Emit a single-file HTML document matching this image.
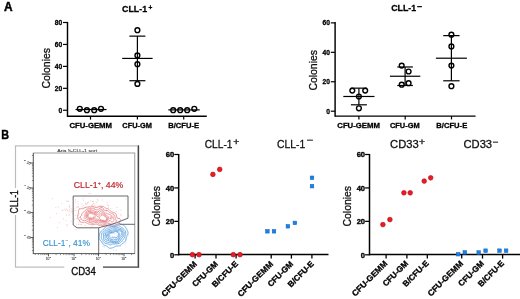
<!DOCTYPE html>
<html lang="en"><head><meta charset="utf-8"><title>Figure</title>
<style>
html,body{margin:0;padding:0;background:#fff;}
svg{display:block;}
text{white-space:pre;}
</style></head>
<body>
<svg width="520" height="299" viewBox="0 0 520 299">
<defs><filter id="soft" x="0" y="0" width="520" height="299" filterUnits="userSpaceOnUse"><feGaussianBlur stdDeviation="0.42"/></filter></defs>
<rect width="520" height="299" fill="#fff"/>
<g filter="url(#soft)">
<text x="4.1" y="11.3" font-size="12.3" text-anchor="start" font-family="Liberation Sans, Arial, sans-serif" font-weight="bold" fill="#000" textLength="8.6" lengthAdjust="spacingAndGlyphs" stroke="#000" stroke-width="0.45">A</text>
<text x="1.2" y="139" font-size="12.3" text-anchor="start" font-family="Liberation Sans, Arial, sans-serif" font-weight="bold" fill="#000" textLength="7.8" lengthAdjust="spacingAndGlyphs" stroke="#000" stroke-width="0.4">B</text>
<line x1="67.5" y1="21.9" x2="67.5" y2="116.95" stroke="#000" stroke-width="1.45"/>
<line x1="67.5" y1="116.25" x2="206.8" y2="116.25" stroke="#000" stroke-width="1.45"/>
<line x1="63" y1="110.25" x2="67.5" y2="110.25" stroke="#000" stroke-width="1.2"/>
<text x="62.2" y="112.65" font-size="6.7" text-anchor="end" font-family="Liberation Sans, Arial, sans-serif" font-weight="bold" fill="#000" stroke="#000" stroke-width="0.3">0</text>
<line x1="63" y1="88.3125" x2="67.5" y2="88.3125" stroke="#000" stroke-width="1.2"/>
<text x="62.2" y="90.7125" font-size="6.7" text-anchor="end" font-family="Liberation Sans, Arial, sans-serif" font-weight="bold" fill="#000" stroke="#000" stroke-width="0.3">20</text>
<line x1="63" y1="66.375" x2="67.5" y2="66.375" stroke="#000" stroke-width="1.2"/>
<text x="62.2" y="68.775" font-size="6.7" text-anchor="end" font-family="Liberation Sans, Arial, sans-serif" font-weight="bold" fill="#000" stroke="#000" stroke-width="0.3">40</text>
<line x1="63" y1="44.4375" x2="67.5" y2="44.4375" stroke="#000" stroke-width="1.2"/>
<text x="62.2" y="46.8375" font-size="6.7" text-anchor="end" font-family="Liberation Sans, Arial, sans-serif" font-weight="bold" fill="#000" stroke="#000" stroke-width="0.3">60</text>
<line x1="63" y1="22.5" x2="67.5" y2="22.5" stroke="#000" stroke-width="1.2"/>
<text x="62.2" y="24.9" font-size="6.7" text-anchor="end" font-family="Liberation Sans, Arial, sans-serif" font-weight="bold" fill="#000" stroke="#000" stroke-width="0.3">80</text>
<line x1="90.5" y1="116.25" x2="90.5" y2="119.6" stroke="#000" stroke-width="1.2"/>
<text x="69.4" y="127.7" font-size="7.5" text-anchor="start" font-family="Liberation Sans, Arial, sans-serif" font-weight="bold" fill="#000" textLength="42.6" lengthAdjust="spacingAndGlyphs" stroke="#000" stroke-width="0.3">CFU-GEMM</text>
<line x1="137.4" y1="116.25" x2="137.4" y2="119.6" stroke="#000" stroke-width="1.2"/>
<text x="122.3" y="127.7" font-size="7.5" text-anchor="start" font-family="Liberation Sans, Arial, sans-serif" font-weight="bold" fill="#000" textLength="29.6" lengthAdjust="spacingAndGlyphs" stroke="#000" stroke-width="0.3">CFU-GM</text>
<line x1="183.7" y1="116.25" x2="183.7" y2="119.6" stroke="#000" stroke-width="1.2"/>
<text x="168.25" y="127.7" font-size="7.5" text-anchor="start" font-family="Liberation Sans, Arial, sans-serif" font-weight="bold" fill="#000" textLength="30.9" lengthAdjust="spacingAndGlyphs" stroke="#000" stroke-width="0.3">B/CFU-E</text>
<text x="122.1" y="11.5" font-size="9.2" text-anchor="start" font-family="Liberation Sans, Arial, sans-serif" font-weight="bold" fill="#000" textLength="25" lengthAdjust="spacingAndGlyphs" stroke="#000" stroke-width="0.3">CLL-1</text>
<text x="148.5" y="10.0" font-size="6.5" text-anchor="start" font-family="Liberation Sans, Arial, sans-serif" font-weight="bold" fill="#000" textLength="3.8" lengthAdjust="spacingAndGlyphs" stroke="#000" stroke-width="0.3">+</text>
<text x="49.6" y="68.3" font-size="10.7" text-anchor="middle" font-family="Liberation Sans, Arial, sans-serif" fill="#111" stroke="#111" stroke-width="0.3" textLength="40.6" lengthAdjust="spacingAndGlyphs" transform="rotate(-90 49.6 68.3)">Colonies</text>
<line x1="75.5" y1="109.53703125" x2="106.5" y2="109.53703125" stroke="#000" stroke-width="1.2"/>
<circle cx="79.8" cy="108.8" r="2.4" fill="#fff" fill-opacity="0" stroke="#000" stroke-width="1.4"/>
<circle cx="86.9" cy="110.2" r="2.4" fill="#fff" fill-opacity="0" stroke="#000" stroke-width="1.4"/>
<circle cx="94.2" cy="110.2" r="2.4" fill="#fff" fill-opacity="0" stroke="#000" stroke-width="1.4"/>
<circle cx="101.0" cy="108.8" r="2.4" fill="#fff" fill-opacity="0" stroke="#000" stroke-width="1.4"/>
<line x1="122.2" y1="58.422656249999996" x2="152.6" y2="58.422656249999996" stroke="#000" stroke-width="1.2"/>
<line x1="129.4" y1="36.13377119550128" x2="145.4" y2="36.13377119550128" stroke="#000" stroke-width="1.2"/>
<line x1="129.4" y1="80.71154130449871" x2="145.4" y2="80.71154130449871" stroke="#000" stroke-width="1.2"/>
<line x1="137.4" y1="36.13377119550128" x2="137.4" y2="80.71154130449871" stroke="#000" stroke-width="1.2"/>
<circle cx="137.4" cy="30.2" r="2.4" fill="#fff" fill-opacity="0" stroke="#000" stroke-width="1.4"/>
<circle cx="137.4" cy="55.4" r="2.4" fill="#fff" fill-opacity="0" stroke="#000" stroke-width="1.4"/>
<circle cx="137.4" cy="64.2" r="2.4" fill="#fff" fill-opacity="0" stroke="#000" stroke-width="1.4"/>
<circle cx="137.4" cy="83.9" r="2.4" fill="#fff" fill-opacity="0" stroke="#000" stroke-width="1.4"/>
<line x1="168.3" y1="109.893515625" x2="199.7" y2="109.893515625" stroke="#000" stroke-width="1.2"/>
<circle cx="173.2" cy="110.2" r="2.4" fill="#fff" fill-opacity="0" stroke="#000" stroke-width="1.4"/>
<circle cx="180.2" cy="110.2" r="2.4" fill="#fff" fill-opacity="0" stroke="#000" stroke-width="1.4"/>
<circle cx="187.2" cy="110.2" r="2.4" fill="#fff" fill-opacity="0" stroke="#000" stroke-width="1.4"/>
<circle cx="194.3" cy="108.8" r="2.4" fill="#fff" fill-opacity="0" stroke="#000" stroke-width="1.4"/>
<line x1="335.1" y1="22" x2="335.1" y2="116.8" stroke="#000" stroke-width="1.45"/>
<line x1="335.1" y1="116.1" x2="475.6" y2="116.1" stroke="#000" stroke-width="1.45"/>
<line x1="330.8" y1="111.2" x2="335.1" y2="111.2" stroke="#000" stroke-width="1.2"/>
<text x="330" y="113.60000000000001" font-size="6.7" text-anchor="end" font-family="Liberation Sans, Arial, sans-serif" font-weight="bold" fill="#000" stroke="#000" stroke-width="0.3">0</text>
<line x1="330.8" y1="81.76" x2="335.1" y2="81.76" stroke="#000" stroke-width="1.2"/>
<text x="330" y="84.16000000000001" font-size="6.7" text-anchor="end" font-family="Liberation Sans, Arial, sans-serif" font-weight="bold" fill="#000" stroke="#000" stroke-width="0.3">20</text>
<line x1="330.8" y1="52.32000000000001" x2="335.1" y2="52.32000000000001" stroke="#000" stroke-width="1.2"/>
<text x="330" y="54.720000000000006" font-size="6.7" text-anchor="end" font-family="Liberation Sans, Arial, sans-serif" font-weight="bold" fill="#000" stroke="#000" stroke-width="0.3">40</text>
<line x1="330.8" y1="22.88000000000001" x2="335.1" y2="22.88000000000001" stroke="#000" stroke-width="1.2"/>
<text x="330" y="25.28000000000001" font-size="6.7" text-anchor="end" font-family="Liberation Sans, Arial, sans-serif" font-weight="bold" fill="#000" stroke="#000" stroke-width="0.3">60</text>
<line x1="358.9" y1="116.1" x2="358.9" y2="119.4" stroke="#000" stroke-width="1.2"/>
<text x="337.3" y="127.5" font-size="7.5" text-anchor="start" font-family="Liberation Sans, Arial, sans-serif" font-weight="bold" fill="#000" textLength="42.6" lengthAdjust="spacingAndGlyphs" stroke="#000" stroke-width="0.3">CFU-GEMM</text>
<line x1="405.2" y1="116.1" x2="405.2" y2="119.4" stroke="#000" stroke-width="1.2"/>
<text x="389.90000000000003" y="127.5" font-size="7.5" text-anchor="start" font-family="Liberation Sans, Arial, sans-serif" font-weight="bold" fill="#000" textLength="29.8" lengthAdjust="spacingAndGlyphs" stroke="#000" stroke-width="0.3">CFU-GM</text>
<line x1="451.5" y1="116.1" x2="451.5" y2="119.4" stroke="#000" stroke-width="1.2"/>
<text x="436.35" y="127.5" font-size="7.5" text-anchor="start" font-family="Liberation Sans, Arial, sans-serif" font-weight="bold" fill="#000" textLength="30.9" lengthAdjust="spacingAndGlyphs" stroke="#000" stroke-width="0.3">B/CFU-E</text>
<text x="391.2" y="11.2" font-size="9.2" text-anchor="start" font-family="Liberation Sans, Arial, sans-serif" font-weight="bold" fill="#000" textLength="25" lengthAdjust="spacingAndGlyphs" stroke="#000" stroke-width="0.3">CLL-1</text>
<text x="417.1" y="8.9" font-size="7" text-anchor="start" font-family="Liberation Sans, Arial, sans-serif" font-weight="bold" fill="#000" textLength="4.8" lengthAdjust="spacingAndGlyphs" stroke="#000" stroke-width="0.4">−</text>
<text x="316.6" y="70.3" font-size="10.7" text-anchor="middle" font-family="Liberation Sans, Arial, sans-serif" fill="#111" stroke="#111" stroke-width="0.3" textLength="40.6" lengthAdjust="spacingAndGlyphs" transform="rotate(-90 316.6 70.3)">Colonies</text>
<line x1="343.29999999999995" y1="96.48" x2="374.5" y2="96.48" stroke="#000" stroke-width="1.2"/>
<line x1="350.9" y1="88.15311054474722" x2="366.9" y2="88.15311054474722" stroke="#000" stroke-width="1.2"/>
<line x1="350.9" y1="104.80688945525279" x2="366.9" y2="104.80688945525279" stroke="#000" stroke-width="1.2"/>
<line x1="358.9" y1="88.15311054474722" x2="358.9" y2="104.80688945525279" stroke="#000" stroke-width="1.2"/>
<circle cx="352.3" cy="90.6" r="2.4" fill="#fff" fill-opacity="0" stroke="#000" stroke-width="1.4"/>
<circle cx="365.2" cy="90.6" r="2.4" fill="#fff" fill-opacity="0" stroke="#000" stroke-width="1.4"/>
<circle cx="358.9" cy="96.5" r="2.4" fill="#fff" fill-opacity="0" stroke="#000" stroke-width="1.4"/>
<circle cx="358.9" cy="108.3" r="2.4" fill="#fff" fill-opacity="0" stroke="#000" stroke-width="1.4"/>
<line x1="389.90000000000003" y1="76.24000000000001" x2="420.3" y2="76.24000000000001" stroke="#000" stroke-width="1.2"/>
<line x1="397.3" y1="66.97886975940122" x2="412.90000000000003" y2="66.97886975940122" stroke="#000" stroke-width="1.2"/>
<line x1="397.3" y1="85.5011302405988" x2="412.90000000000003" y2="85.5011302405988" stroke="#000" stroke-width="1.2"/>
<line x1="405.1" y1="66.97886975940122" x2="405.1" y2="85.5011302405988" stroke="#000" stroke-width="1.2"/>
<circle cx="401.7" cy="65.6" r="2.4" fill="#fff" fill-opacity="0" stroke="#000" stroke-width="1.4"/>
<circle cx="408.6" cy="71.5" r="2.4" fill="#fff" fill-opacity="0" stroke="#000" stroke-width="1.4"/>
<circle cx="408.6" cy="83.2" r="2.4" fill="#fff" fill-opacity="0" stroke="#000" stroke-width="1.4"/>
<circle cx="401.7" cy="84.7" r="2.4" fill="#fff" fill-opacity="0" stroke="#000" stroke-width="1.4"/>
<line x1="435.9" y1="58.208000000000006" x2="466.9" y2="58.208000000000006" stroke="#000" stroke-width="1.2"/>
<line x1="443.2" y1="35.62666918595511" x2="459.59999999999997" y2="35.62666918595511" stroke="#000" stroke-width="1.2"/>
<line x1="443.2" y1="80.78933081404489" x2="459.59999999999997" y2="80.78933081404489" stroke="#000" stroke-width="1.2"/>
<line x1="451.4" y1="35.62666918595511" x2="451.4" y2="80.78933081404489" stroke="#000" stroke-width="1.2"/>
<circle cx="451.4" cy="34.7" r="2.4" fill="#fff" fill-opacity="0" stroke="#000" stroke-width="1.4"/>
<circle cx="451.4" cy="46.4" r="2.4" fill="#fff" fill-opacity="0" stroke="#000" stroke-width="1.4"/>
<circle cx="451.4" cy="65.6" r="2.4" fill="#fff" fill-opacity="0" stroke="#000" stroke-width="1.4"/>
<circle cx="451.4" cy="86.2" r="2.4" fill="#fff" fill-opacity="0" stroke="#000" stroke-width="1.4"/>
<line x1="178.7" y1="154" x2="178.7" y2="255.35" stroke="#000" stroke-width="1.5"/>
<line x1="178.7" y1="254.6" x2="328.5" y2="254.6" stroke="#000" stroke-width="1.5"/>
<line x1="174.29999999999998" y1="254.8" x2="178.7" y2="254.8" stroke="#000" stroke-width="1.25"/>
<text x="174.29999999999998" y="257.5" font-size="7.6" text-anchor="end" font-family="Liberation Sans, Arial, sans-serif" font-weight="bold" fill="#000" stroke="#000" stroke-width="0.35">0</text>
<line x1="174.29999999999998" y1="221.36" x2="178.7" y2="221.36" stroke="#000" stroke-width="1.25"/>
<text x="174.29999999999998" y="224.06" font-size="7.6" text-anchor="end" font-family="Liberation Sans, Arial, sans-serif" font-weight="bold" fill="#000" stroke="#000" stroke-width="0.35">20</text>
<line x1="174.29999999999998" y1="187.92000000000002" x2="178.7" y2="187.92000000000002" stroke="#000" stroke-width="1.25"/>
<text x="174.29999999999998" y="190.62" font-size="7.6" text-anchor="end" font-family="Liberation Sans, Arial, sans-serif" font-weight="bold" fill="#000" stroke="#000" stroke-width="0.35">40</text>
<line x1="174.29999999999998" y1="154.48000000000002" x2="178.7" y2="154.48000000000002" stroke="#000" stroke-width="1.25"/>
<text x="174.29999999999998" y="157.18" font-size="7.6" text-anchor="end" font-family="Liberation Sans, Arial, sans-serif" font-weight="bold" fill="#000" stroke="#000" stroke-width="0.35">60</text>
<line x1="195.1" y1="254.6" x2="195.1" y2="258.6" stroke="#000" stroke-width="1.3"/>
<line x1="216" y1="254.6" x2="216" y2="258.6" stroke="#000" stroke-width="1.3"/>
<line x1="236.1" y1="254.6" x2="236.1" y2="258.6" stroke="#000" stroke-width="1.3"/>
<line x1="271.2" y1="254.6" x2="271.2" y2="258.6" stroke="#000" stroke-width="1.3"/>
<line x1="291.4" y1="254.6" x2="291.4" y2="258.6" stroke="#000" stroke-width="1.3"/>
<line x1="311.9" y1="254.6" x2="311.9" y2="258.6" stroke="#000" stroke-width="1.3"/>
<text x="159.9" y="206.2" font-size="10.7" text-anchor="middle" font-family="Liberation Sans, Arial, sans-serif" fill="#111" stroke="#111" stroke-width="0.3" textLength="40.6" lengthAdjust="spacingAndGlyphs" transform="rotate(-90 159.9 206.2)">Colonies</text>
<line x1="369.5" y1="154" x2="369.5" y2="255.35" stroke="#000" stroke-width="1.5"/>
<line x1="369.5" y1="254.6" x2="520" y2="254.6" stroke="#000" stroke-width="1.5"/>
<line x1="365.1" y1="254.8" x2="369.5" y2="254.8" stroke="#000" stroke-width="1.25"/>
<text x="365.1" y="257.5" font-size="7.6" text-anchor="end" font-family="Liberation Sans, Arial, sans-serif" font-weight="bold" fill="#000" stroke="#000" stroke-width="0.35">0</text>
<line x1="365.1" y1="221.36" x2="369.5" y2="221.36" stroke="#000" stroke-width="1.25"/>
<text x="365.1" y="224.06" font-size="7.6" text-anchor="end" font-family="Liberation Sans, Arial, sans-serif" font-weight="bold" fill="#000" stroke="#000" stroke-width="0.35">20</text>
<line x1="365.1" y1="187.92000000000002" x2="369.5" y2="187.92000000000002" stroke="#000" stroke-width="1.25"/>
<text x="365.1" y="190.62" font-size="7.6" text-anchor="end" font-family="Liberation Sans, Arial, sans-serif" font-weight="bold" fill="#000" stroke="#000" stroke-width="0.35">40</text>
<line x1="365.1" y1="154.48000000000002" x2="369.5" y2="154.48000000000002" stroke="#000" stroke-width="1.25"/>
<text x="365.1" y="157.18" font-size="7.6" text-anchor="end" font-family="Liberation Sans, Arial, sans-serif" font-weight="bold" fill="#000" stroke="#000" stroke-width="0.35">60</text>
<line x1="386.1" y1="254.6" x2="386.1" y2="258.6" stroke="#000" stroke-width="1.3"/>
<line x1="406.9" y1="254.6" x2="406.9" y2="258.6" stroke="#000" stroke-width="1.3"/>
<line x1="427.3" y1="254.6" x2="427.3" y2="258.6" stroke="#000" stroke-width="1.3"/>
<line x1="461.7" y1="254.6" x2="461.7" y2="258.6" stroke="#000" stroke-width="1.3"/>
<line x1="482.5" y1="254.6" x2="482.5" y2="258.6" stroke="#000" stroke-width="1.3"/>
<line x1="502.6" y1="254.6" x2="502.6" y2="258.6" stroke="#000" stroke-width="1.3"/>
<text x="351.0" y="206.2" font-size="10.7" text-anchor="middle" font-family="Liberation Sans, Arial, sans-serif" fill="#111" stroke="#111" stroke-width="0.3" textLength="40.6" lengthAdjust="spacingAndGlyphs" transform="rotate(-90 351.0 206.2)">Colonies</text>
<text x="197.5" y="264.5" font-size="8.2" text-anchor="end" font-family="Liberation Sans, Arial, sans-serif" font-weight="bold" stroke="#000" stroke-width="0.35" textLength="46.2" lengthAdjust="spacingAndGlyphs" transform="rotate(-45 197.5 264.5)">CFU-GEMM</text>
<text x="218.4" y="264.5" font-size="8.2" text-anchor="end" font-family="Liberation Sans, Arial, sans-serif" font-weight="bold" stroke="#000" stroke-width="0.35" textLength="32.3" lengthAdjust="spacingAndGlyphs" transform="rotate(-45 218.4 264.5)">CFU-GM</text>
<text x="238.5" y="264.5" font-size="8.2" text-anchor="end" font-family="Liberation Sans, Arial, sans-serif" font-weight="bold" stroke="#000" stroke-width="0.35" textLength="32.8" lengthAdjust="spacingAndGlyphs" transform="rotate(-45 238.5 264.5)">B/CFU-E</text>
<text x="273.59999999999997" y="264.5" font-size="8.2" text-anchor="end" font-family="Liberation Sans, Arial, sans-serif" font-weight="bold" stroke="#000" stroke-width="0.35" textLength="46.2" lengthAdjust="spacingAndGlyphs" transform="rotate(-45 273.59999999999997 264.5)">CFU-GEMM</text>
<text x="293.79999999999995" y="264.5" font-size="8.2" text-anchor="end" font-family="Liberation Sans, Arial, sans-serif" font-weight="bold" stroke="#000" stroke-width="0.35" textLength="32.3" lengthAdjust="spacingAndGlyphs" transform="rotate(-45 293.79999999999995 264.5)">CFU-GM</text>
<text x="314.29999999999995" y="264.5" font-size="8.2" text-anchor="end" font-family="Liberation Sans, Arial, sans-serif" font-weight="bold" stroke="#000" stroke-width="0.35" textLength="32.8" lengthAdjust="spacingAndGlyphs" transform="rotate(-45 314.29999999999995 264.5)">B/CFU-E</text>
<text x="388.0" y="264.0" font-size="8.2" text-anchor="end" font-family="Liberation Sans, Arial, sans-serif" font-weight="bold" stroke="#000" stroke-width="0.35" textLength="46.2" lengthAdjust="spacingAndGlyphs" transform="rotate(-45 388.0 264.0)">CFU-GEMM</text>
<text x="408.79999999999995" y="264.0" font-size="8.2" text-anchor="end" font-family="Liberation Sans, Arial, sans-serif" font-weight="bold" stroke="#000" stroke-width="0.35" textLength="32.3" lengthAdjust="spacingAndGlyphs" transform="rotate(-45 408.79999999999995 264.0)">CFU-GM</text>
<text x="429.2" y="264.0" font-size="8.2" text-anchor="end" font-family="Liberation Sans, Arial, sans-serif" font-weight="bold" stroke="#000" stroke-width="0.35" textLength="32.8" lengthAdjust="spacingAndGlyphs" transform="rotate(-45 429.2 264.0)">B/CFU-E</text>
<text x="463.59999999999997" y="264.0" font-size="8.2" text-anchor="end" font-family="Liberation Sans, Arial, sans-serif" font-weight="bold" stroke="#000" stroke-width="0.35" textLength="46.2" lengthAdjust="spacingAndGlyphs" transform="rotate(-45 463.59999999999997 264.0)">CFU-GEMM</text>
<text x="484.4" y="264.0" font-size="8.2" text-anchor="end" font-family="Liberation Sans, Arial, sans-serif" font-weight="bold" stroke="#000" stroke-width="0.35" textLength="32.3" lengthAdjust="spacingAndGlyphs" transform="rotate(-45 484.4 264.0)">CFU-GM</text>
<text x="504.5" y="264.0" font-size="8.2" text-anchor="end" font-family="Liberation Sans, Arial, sans-serif" font-weight="bold" stroke="#000" stroke-width="0.35" textLength="32.8" lengthAdjust="spacingAndGlyphs" transform="rotate(-45 504.5 264.0)">B/CFU-E</text>
<circle cx="192.4" cy="254.7" r="2.35" fill="#ec1a22" stroke="#b40e18" stroke-width="0.6"/>
<circle cx="199.0" cy="254.7" r="2.35" fill="#ec1a22" stroke="#b40e18" stroke-width="0.6"/>
<circle cx="212.9" cy="174.4" r="2.35" fill="#ec1a22" stroke="#b40e18" stroke-width="0.6"/>
<circle cx="219.7" cy="169.4" r="2.35" fill="#ec1a22" stroke="#b40e18" stroke-width="0.6"/>
<circle cx="233.3" cy="254.7" r="2.35" fill="#ec1a22" stroke="#b40e18" stroke-width="0.6"/>
<circle cx="240.0" cy="254.7" r="2.35" fill="#ec1a22" stroke="#b40e18" stroke-width="0.6"/>
<rect x="265.60" y="229.49" width="3.6" height="3.6" fill="#1c80e2" stroke="#0f64c6" stroke-width="0.5"/>
<rect x="272.20" y="229.49" width="3.6" height="3.6" fill="#1c80e2" stroke="#0f64c6" stroke-width="0.5"/>
<rect x="286.10" y="224.48" width="3.6" height="3.6" fill="#1c80e2" stroke="#0f64c6" stroke-width="0.5"/>
<rect x="293.10" y="221.13" width="3.6" height="3.6" fill="#1c80e2" stroke="#0f64c6" stroke-width="0.5"/>
<rect x="310.20" y="184.35" width="3.6" height="3.6" fill="#1c80e2" stroke="#0f64c6" stroke-width="0.5"/>
<rect x="310.20" y="175.99" width="3.6" height="3.6" fill="#1c80e2" stroke="#0f64c6" stroke-width="0.5"/>
<circle cx="382.9" cy="224.6" r="2.35" fill="#ec1a22" stroke="#b40e18" stroke-width="0.6"/>
<circle cx="389.9" cy="219.6" r="2.35" fill="#ec1a22" stroke="#b40e18" stroke-width="0.6"/>
<circle cx="403.9" cy="192.8" r="2.35" fill="#ec1a22" stroke="#b40e18" stroke-width="0.6"/>
<circle cx="410.2" cy="192.8" r="2.35" fill="#ec1a22" stroke="#b40e18" stroke-width="0.6"/>
<circle cx="424.2" cy="181.1" r="2.35" fill="#ec1a22" stroke="#b40e18" stroke-width="0.6"/>
<circle cx="430.7" cy="177.8" r="2.35" fill="#ec1a22" stroke="#b40e18" stroke-width="0.6"/>
<rect x="456.40" y="252.40" width="3.6" height="3.6" fill="#1c80e2" stroke="#0f64c6" stroke-width="0.5"/>
<rect x="463.00" y="250.56" width="3.6" height="3.6" fill="#1c80e2" stroke="#0f64c6" stroke-width="0.5"/>
<rect x="476.90" y="250.73" width="3.6" height="3.6" fill="#1c80e2" stroke="#0f64c6" stroke-width="0.5"/>
<rect x="483.80" y="248.89" width="3.6" height="3.6" fill="#1c80e2" stroke="#0f64c6" stroke-width="0.5"/>
<rect x="497.70" y="248.89" width="3.6" height="3.6" fill="#1c80e2" stroke="#0f64c6" stroke-width="0.5"/>
<rect x="504.30" y="248.89" width="3.6" height="3.6" fill="#1c80e2" stroke="#0f64c6" stroke-width="0.5"/>
<text x="204.8" y="148" font-size="11.6" text-anchor="start" font-family="Liberation Sans, Arial, sans-serif" fill="#111" textLength="27.6" lengthAdjust="spacingAndGlyphs" stroke="#111" stroke-width="0.3">CLL-1</text>
<text x="233.2" y="145" font-size="9" text-anchor="start" font-family="Liberation Sans, Arial, sans-serif" fill="#111" textLength="6.0" lengthAdjust="spacingAndGlyphs" stroke="#111" stroke-width="0.3">+</text>
<text x="277" y="148" font-size="11.6" text-anchor="start" font-family="Liberation Sans, Arial, sans-serif" fill="#111" textLength="28.2" lengthAdjust="spacingAndGlyphs" stroke="#111" stroke-width="0.3">CLL-1</text>
<text x="306.4" y="142.6" font-size="9" text-anchor="start" font-family="Liberation Sans, Arial, sans-serif" fill="#111" textLength="6.6" lengthAdjust="spacingAndGlyphs" stroke="#111" stroke-width="0.3">−</text>
<text x="390.1" y="148" font-size="11.6" text-anchor="start" font-family="Liberation Sans, Arial, sans-serif" fill="#111" textLength="28.6" lengthAdjust="spacingAndGlyphs" stroke="#111" stroke-width="0.3">CD33</text>
<text x="419.0" y="145" font-size="9" text-anchor="start" font-family="Liberation Sans, Arial, sans-serif" fill="#111" textLength="6.0" lengthAdjust="spacingAndGlyphs" stroke="#111" stroke-width="0.3">+</text>
<text x="463.5" y="148" font-size="11.6" text-anchor="start" font-family="Liberation Sans, Arial, sans-serif" fill="#111" textLength="28.6" lengthAdjust="spacingAndGlyphs" stroke="#111" stroke-width="0.3">CD33</text>
<text x="492.4" y="144.6" font-size="9" text-anchor="start" font-family="Liberation Sans, Arial, sans-serif" fill="#111" textLength="5.8" lengthAdjust="spacingAndGlyphs" stroke="#111" stroke-width="0.3">−</text>
<rect x="15.5" y="145.9" width="122.3" height="121.2" fill="none" stroke="#bcbcbc" stroke-width="1.2"/>
<line x1="138.5" y1="145.3" x2="138.5" y2="267.6" stroke="#444" stroke-width="1.3"/>
<line x1="103" y1="267.1" x2="139.1" y2="267.1" stroke="#555" stroke-width="1.1"/>
<rect x="33.3" y="153" width="101.5" height="100.6" fill="none" stroke="#858585" stroke-width="0.8"/>
<line x1="33.3" y1="153" x2="33.3" y2="254" stroke="#555" stroke-width="0.8"/>
<line x1="32.9" y1="253.6" x2="134.8" y2="253.6" stroke="#555" stroke-width="0.8"/>
<text x="57.2" y="151.5" font-size="4.4" text-anchor="start" font-family="Liberation Sans, Arial, sans-serif" fill="#3a3a3a" textLength="40" lengthAdjust="spacingAndGlyphs" stroke="#3a3a3a" stroke-width="0.08">Aria 5-CLL-1 sort</text>
<path d="M31.9 250.5H33.3M31.9 247.4H33.3M31.9 245.0H33.3M31.9 243.0H33.3M31.9 241.3H33.3M31.9 239.9H33.3M31.9 238.6H33.3M31.9 230.0H33.3M31.9 225.7H33.3M31.9 222.6H33.3M31.9 220.2H33.3M31.9 218.2H33.3M31.9 216.5H33.3M31.9 215.1H33.3M31.9 213.8H33.3M31.9 205.0H33.3M31.9 200.7H33.3M31.9 197.6H33.3M31.9 195.2H33.3M31.9 193.2H33.3M31.9 191.5H33.3M31.9 190.1H33.3M31.9 188.8H33.3M31.9 180.5H33.3M31.9 176.2H33.3M31.9 173.1H33.3M31.9 170.7H33.3M31.9 168.7H33.3M31.9 167.0H33.3M31.9 165.6H33.3M31.9 164.3H33.3M31.9 155.5H33.3M35.3 253.6V255.1M38.5 253.6V255.1M40.9 253.6V255.1M42.9 253.6V255.1M44.6 253.6V255.1M46.1 253.6V255.1M47.3 253.6V255.1M56.1 253.6V255.1M60.5 253.6V255.1M63.7 253.6V255.1M66.1 253.6V255.1M68.1 253.6V255.1M69.8 253.6V255.1M71.3 253.6V255.1M72.5 253.6V255.1M81.6 253.6V255.1M86.0 253.6V255.1M89.2 253.6V255.1M91.6 253.6V255.1M93.6 253.6V255.1M95.3 253.6V255.1M96.8 253.6V255.1M98.0 253.6V255.1M106.1 253.6V255.1M110.5 253.6V255.1M113.7 253.6V255.1M116.1 253.6V255.1M118.1 253.6V255.1M119.8 253.6V255.1M121.3 253.6V255.1M122.5 253.6V255.1M131.6 253.6V255.1" stroke="#4a4a4a" stroke-width="0.6" fill="none"/>
<line x1="30.6" y1="163" x2="33.3" y2="163" stroke="#333" stroke-width="0.8"/>
<text x="26.4" y="163.2" font-size="3.6" text-anchor="start" font-family="Liberation Sans, Arial, sans-serif" fill="#444" transform="rotate(25 26.4 163.2)" stroke="#444" stroke-width="0.15">10</text>
<text x="24.2" y="161.4" font-size="2.4" text-anchor="start" font-family="Liberation Sans, Arial, sans-serif" fill="#444" stroke="#444" stroke-width="0.15">5</text>
<line x1="30.6" y1="188" x2="33.3" y2="188" stroke="#333" stroke-width="0.8"/>
<text x="26.4" y="188.2" font-size="3.6" text-anchor="start" font-family="Liberation Sans, Arial, sans-serif" fill="#444" transform="rotate(25 26.4 188.2)" stroke="#444" stroke-width="0.15">10</text>
<text x="24.2" y="186.4" font-size="2.4" text-anchor="start" font-family="Liberation Sans, Arial, sans-serif" fill="#444" stroke="#444" stroke-width="0.15">4</text>
<line x1="30.6" y1="212.5" x2="33.3" y2="212.5" stroke="#333" stroke-width="0.8"/>
<text x="26.4" y="212.7" font-size="3.6" text-anchor="start" font-family="Liberation Sans, Arial, sans-serif" fill="#444" transform="rotate(25 26.4 212.7)" stroke="#444" stroke-width="0.15">10</text>
<text x="24.2" y="210.9" font-size="2.4" text-anchor="start" font-family="Liberation Sans, Arial, sans-serif" fill="#444" stroke="#444" stroke-width="0.15">3</text>
<line x1="30.6" y1="237.5" x2="33.3" y2="237.5" stroke="#333" stroke-width="0.8"/>
<text x="26.4" y="237.7" font-size="3.6" text-anchor="start" font-family="Liberation Sans, Arial, sans-serif" fill="#444" transform="rotate(25 26.4 237.7)" stroke="#444" stroke-width="0.15">10</text>
<text x="24.2" y="235.9" font-size="2.4" text-anchor="start" font-family="Liberation Sans, Arial, sans-serif" fill="#444" stroke="#444" stroke-width="0.15">2</text>
<line x1="48.5" y1="253.6" x2="48.5" y2="256.3" stroke="#333" stroke-width="0.8"/>
<text x="45.7" y="260.0" font-size="3.4" text-anchor="start" font-family="Liberation Sans, Arial, sans-serif" fill="#555" stroke="#555" stroke-width="0.15">10</text>
<text x="49.4" y="258.4" font-size="2.3" text-anchor="start" font-family="Liberation Sans, Arial, sans-serif" fill="#555" stroke="#555" stroke-width="0.15">2</text>
<line x1="74" y1="253.6" x2="74" y2="256.3" stroke="#333" stroke-width="0.8"/>
<text x="71.2" y="260.0" font-size="3.4" text-anchor="start" font-family="Liberation Sans, Arial, sans-serif" fill="#555" stroke="#555" stroke-width="0.15">10</text>
<text x="74.9" y="258.4" font-size="2.3" text-anchor="start" font-family="Liberation Sans, Arial, sans-serif" fill="#555" stroke="#555" stroke-width="0.15">3</text>
<line x1="98.5" y1="253.6" x2="98.5" y2="256.3" stroke="#333" stroke-width="0.8"/>
<text x="95.7" y="260.0" font-size="3.4" text-anchor="start" font-family="Liberation Sans, Arial, sans-serif" fill="#555" stroke="#555" stroke-width="0.15">10</text>
<text x="99.4" y="258.4" font-size="2.3" text-anchor="start" font-family="Liberation Sans, Arial, sans-serif" fill="#555" stroke="#555" stroke-width="0.15">4</text>
<line x1="124" y1="253.6" x2="124" y2="256.3" stroke="#333" stroke-width="0.8"/>
<text x="121.2" y="260.0" font-size="3.4" text-anchor="start" font-family="Liberation Sans, Arial, sans-serif" fill="#555" stroke="#555" stroke-width="0.15">10</text>
<text x="124.9" y="258.4" font-size="2.3" text-anchor="start" font-family="Liberation Sans, Arial, sans-serif" fill="#555" stroke="#555" stroke-width="0.15">5</text>
<path d="M73.2 196.0 H128 V218.2 L115.5 223.2 L98.5 227.8 H77 L73.2 225 Z" fill="none" stroke="#444" stroke-width="0.8"/>
<path d="M119.5 224.3 H134.8 M98.7 227.8 V254" fill="none" stroke="#444" stroke-width="0.8"/>
<g fill="none" stroke="#dc4a50" stroke-width="0.6" opacity="0.9">
<path d="M100.9 206.3 L101.3 206.3 L102.0 206.3 L102.7 206.3 L103.0 206.4 L103.7 206.6 L104.0 206.8 L104.4 207.0 L104.7 207.3 L105.0 207.7 L105.4 208.0 L105.9 208.3 L106.3 208.5 L107.0 208.7 L107.3 208.7 L108.0 208.9 L108.3 209.0 L108.9 209.3 L109.3 209.7 L109.6 210.0 L109.9 210.3 L110.2 210.7 L110.6 211.0 L111.0 211.3 L111.3 211.6 L111.7 211.8 L112.1 212.0 L112.7 212.2 L113.0 212.3 L113.7 212.5 L114.3 212.7 L114.7 212.8 L115.1 213.0 L115.5 213.3 L115.8 213.7 L116.0 214.0 L116.2 214.7 L116.3 215.1 L116.4 215.7 L116.6 216.3 L116.7 216.7 L116.9 217.3 L117.1 217.7 L117.4 218.0 L118.0 218.3 L118.3 218.4 L119.0 218.5 L119.7 218.6 L120.0 218.8 L120.3 219.1 L120.5 219.7 L120.4 220.3 L120.3 220.7 L120.0 221.2 L119.8 221.7 L119.7 222.1 L119.5 222.7 L119.4 223.3 L119.3 223.7 L119.0 224.2 L118.7 224.5 L118.3 224.8 L117.7 225.0 L117.3 225.1 L116.7 225.1 L116.0 225.1 L115.5 225.3 L115.0 225.7 L114.7 225.9 L114.3 226.1 L113.8 226.3 L113.3 226.4 L112.7 226.5 L112.0 226.4 L111.5 226.3 L111.0 226.2 L110.3 226.1 L109.9 226.0 L109.3 225.9 L108.7 225.8 L108.0 225.7 L107.3 225.7 L106.7 225.8 L106.0 225.9 L105.3 226.0 L104.7 226.0 L104.0 225.9 L103.3 225.7 L103.0 225.7 L102.3 225.6 L101.7 225.5 L101.0 225.5 L100.3 225.6 L99.7 225.5 L99.0 225.4 L98.7 225.2 L98.3 225.0 L97.8 224.7 L97.3 224.4 L97.0 224.2 L96.3 224.1 L95.7 224.1 L95.0 224.3 L94.7 224.4 L94.0 224.6 L93.7 224.7 L93.0 224.8 L92.3 224.7 L91.9 224.7 L91.3 224.6 L90.7 224.4 L90.3 224.3 L89.7 224.2 L89.1 224.0 L88.7 223.9 L88.2 223.7 L87.7 223.4 L87.3 223.3 L86.8 223.0 L86.3 222.8 L86.0 222.7 L85.3 222.5 L84.7 222.3 L84.3 222.3 L83.9 222.3 L83.3 222.4 L82.7 222.4 L82.0 222.4 L81.7 222.3 L81.0 222.1 L80.7 222.0 L80.3 221.7 L80.0 221.3 L79.7 220.9 L79.4 220.3 L79.2 220.0 L78.9 219.7 L78.6 219.3 L78.3 219.0 L78.0 218.7 L77.7 218.1 L77.6 217.7 L77.6 217.0 L77.7 216.5 L77.8 216.0 L78.0 215.3 L78.0 215.0 L78.2 214.3 L78.3 213.7 L78.3 213.3 L78.4 212.7 L78.5 212.0 L78.5 211.3 L78.6 210.7 L78.6 210.0 L78.7 209.7 L79.0 209.3 L79.6 209.0 L80.0 208.9 L80.7 208.8 L81.3 208.7 L82.0 208.7 L82.5 208.7 L83.0 208.6 L83.7 208.4 L84.0 208.2 L84.3 208.0 L84.9 207.7 L85.3 207.5 L85.9 207.3 L86.3 207.2 L87.0 207.1 L87.7 207.1 L88.2 207.0 L88.7 207.0 L89.3 206.9 L90.0 206.9 L90.7 206.8 L91.3 206.7 L91.7 206.6 L92.3 206.6 L92.7 206.7 L93.3 206.8 L94.0 206.9 L94.3 207.0 L95.0 207.3 L95.3 207.4 L96.0 207.6 L96.7 207.6 L97.3 207.5 L97.9 207.3 L98.3 207.1 L98.7 206.9 L99.3 206.7 L99.7 206.6 L100.3 206.4 L100.9 206.3Z"/>
<path d="M100.9 207.7 L101.3 207.6 L102.0 207.6 L102.3 207.7 L102.9 208.0 L103.2 208.3 L103.5 208.7 L103.7 209.0 L104.0 209.6 L104.3 210.0 L104.5 210.3 L105.0 210.7 L105.3 210.7 L106.0 210.7 L106.3 210.6 L107.0 210.5 L107.7 210.7 L108.0 210.9 L108.3 211.2 L108.7 211.5 L109.0 211.9 L109.3 212.2 L109.7 212.5 L110.0 212.7 L110.7 213.0 L111.0 213.1 L111.5 213.3 L112.0 213.6 L112.3 213.7 L112.9 214.0 L113.3 214.2 L113.7 214.4 L114.0 214.7 L114.3 215.1 L114.7 215.6 L114.8 216.0 L115.0 216.7 L115.0 217.0 L115.1 217.7 L115.3 218.3 L115.4 218.7 L115.6 219.3 L115.8 219.7 L116.0 220.0 L116.3 220.6 L116.4 221.0 L116.3 221.5 L116.0 221.9 L115.7 222.2 L115.3 222.4 L114.9 222.7 L114.4 223.0 L114.0 223.3 L113.7 223.6 L113.3 224.0 L113.0 224.2 L112.7 224.4 L112.0 224.6 L111.3 224.4 L111.0 224.3 L110.4 224.0 L110.0 223.8 L109.7 223.7 L109.0 223.6 L108.3 223.6 L108.0 223.7 L107.3 223.9 L107.0 224.0 L106.3 224.2 L105.7 224.3 L105.3 224.4 L104.7 224.4 L104.0 224.4 L103.5 224.3 L103.0 224.2 L102.3 224.1 L101.7 224.1 L101.0 224.1 L100.3 224.1 L99.7 224.0 L99.3 223.9 L98.9 223.7 L98.4 223.3 L98.0 223.0 L97.7 222.8 L97.3 222.6 L96.7 222.4 L96.0 222.4 L95.3 222.5 L94.9 222.7 L94.3 222.9 L94.0 223.0 L93.3 223.1 L92.7 223.1 L92.0 223.0 L91.7 223.0 L91.0 222.8 L90.6 222.7 L90.0 222.5 L89.5 222.3 L89.0 222.2 L88.6 222.0 L88.0 221.7 L87.7 221.6 L87.3 221.3 L86.7 221.0 L86.3 220.9 L85.8 220.7 L85.3 220.5 L84.7 220.4 L84.0 220.3 L83.7 220.3 L83.0 220.3 L82.3 220.1 L82.0 219.8 L81.7 219.5 L81.3 219.0 L81.1 218.7 L80.9 218.3 L80.6 218.0 L80.3 217.6 L80.2 217.0 L80.3 216.6 L80.7 216.3 L81.0 216.0 L81.3 215.7 L81.7 215.0 L81.7 214.7 L81.9 214.0 L82.0 213.7 L82.3 213.0 L82.6 212.7 L83.0 212.3 L83.3 212.1 L83.7 211.9 L84.0 211.7 L84.5 211.3 L84.8 211.0 L85.1 210.7 L85.3 210.3 L85.7 209.9 L86.0 209.6 L86.3 209.3 L87.0 209.0 L87.3 208.9 L88.0 208.8 L88.7 208.7 L89.3 208.7 L89.7 208.7 L90.3 208.5 L91.0 208.4 L91.3 208.3 L92.0 208.2 L92.7 208.2 L93.3 208.3 L93.7 208.4 L94.1 208.7 L94.7 209.0 L95.0 209.2 L95.3 209.4 L95.8 209.7 L96.3 209.9 L97.0 209.9 L97.5 209.7 L98.0 209.4 L98.3 209.2 L98.7 209.0 L99.1 208.7 L99.6 208.3 L100.0 208.1 L100.3 207.9 L100.9 207.7Z"/>
<path d="M100.5 209.7 L101.0 209.4 L101.7 209.4 L102.2 209.7 L102.5 210.0 L102.8 210.3 L103.0 210.7 L103.3 211.1 L103.7 211.5 L104.0 211.9 L104.3 212.2 L104.7 212.5 L105.0 212.7 L105.5 213.0 L106.0 213.2 L106.3 213.3 L107.0 213.5 L107.4 213.7 L108.0 213.9 L108.3 214.0 L109.0 214.2 L109.4 214.3 L110.0 214.5 L110.3 214.7 L110.8 215.0 L111.1 215.3 L111.3 216.0 L111.0 216.6 L110.7 217.0 L110.3 217.3 L110.2 217.7 L110.0 218.0 L109.9 218.7 L110.0 219.2 L110.3 219.0 L110.7 218.6 L111.0 218.2 L111.3 217.8 L111.7 217.5 L112.2 217.3 L112.5 217.3 L113.0 217.5 L113.3 217.9 L113.6 218.3 L113.7 218.7 L113.9 219.3 L114.0 219.8 L114.0 220.3 L113.9 220.7 L113.7 221.1 L113.3 221.5 L113.0 221.7 L112.3 222.0 L112.0 222.0 L111.7 222.0 L111.0 221.7 L110.7 221.3 L110.4 221.0 L110.2 220.7 L110.0 220.3 L109.4 220.3 L109.1 220.7 L108.7 221.0 L108.4 221.3 L108.1 221.7 L107.7 222.0 L107.3 222.3 L107.0 222.5 L106.6 222.7 L106.0 222.9 L105.3 223.0 L105.0 223.0 L104.3 223.0 L104.0 223.0 L103.3 222.9 L102.7 222.7 L102.3 222.6 L101.7 222.5 L101.0 222.4 L100.3 222.4 L100.0 222.3 L99.3 222.2 L98.9 222.0 L98.3 221.7 L98.0 221.6 L97.3 221.3 L97.0 221.3 L96.3 221.2 L95.7 221.2 L95.0 221.3 L94.7 221.4 L94.0 221.4 L93.3 221.4 L92.7 221.4 L92.3 221.3 L91.7 221.3 L91.0 221.2 L90.3 221.0 L90.0 220.9 L89.4 220.7 L89.0 220.5 L88.7 220.3 L88.1 220.0 L87.7 219.8 L87.3 219.6 L86.8 219.3 L86.3 219.1 L86.0 218.9 L85.7 218.6 L85.3 218.3 L85.0 217.8 L84.9 217.3 L84.9 216.7 L84.9 216.0 L84.9 215.3 L84.9 214.7 L85.0 214.1 L85.1 213.7 L85.3 213.2 L85.6 212.7 L85.8 212.3 L86.0 212.0 L86.3 211.5 L86.7 211.1 L87.0 210.8 L87.3 210.6 L88.0 210.3 L88.3 210.3 L89.0 210.2 L89.7 210.2 L90.3 210.2 L91.0 210.1 L91.7 210.0 L92.0 210.0 L92.3 210.0 L93.0 210.2 L93.3 210.3 L94.0 210.7 L94.3 210.9 L94.7 211.1 L95.1 211.3 L95.6 211.7 L96.0 211.9 L96.3 212.1 L97.0 212.3 L97.7 212.2 L98.0 211.9 L98.3 211.5 L98.7 211.0 L99.0 210.7 L99.3 210.4 L99.7 210.1 L100.0 209.9 L100.5 209.7Z"/>
<path d="M100.7 211.3 L101.3 211.2 L101.7 211.3 L102.2 211.7 L102.6 212.0 L103.0 212.3 L103.3 212.7 L103.7 213.0 L104.0 213.3 L104.3 213.6 L104.7 213.9 L105.0 214.2 L105.3 214.5 L105.7 214.8 L106.0 215.1 L106.5 215.3 L107.0 215.6 L107.3 215.8 L107.7 216.0 L108.0 216.4 L108.2 217.0 L108.3 217.7 L108.3 218.3 L108.2 219.0 L108.0 219.6 L107.9 220.0 L107.7 220.4 L107.3 220.9 L107.0 221.2 L106.7 221.5 L106.3 221.7 L105.7 221.9 L105.3 222.0 L104.7 222.0 L104.2 222.0 L103.7 221.9 L103.0 221.7 L102.7 221.6 L102.0 221.5 L101.3 221.4 L100.9 221.3 L100.3 221.3 L99.7 221.1 L99.3 221.0 L98.7 220.7 L98.3 220.6 L97.7 220.4 L97.3 220.3 L96.7 220.2 L96.0 220.2 L95.3 220.2 L94.7 220.1 L94.3 220.0 L93.7 219.8 L93.0 219.8 L92.3 219.8 L91.7 219.9 L91.0 219.9 L90.3 219.8 L90.0 219.7 L89.3 219.4 L89.0 219.2 L88.6 219.0 L88.0 218.7 L87.7 218.5 L87.3 218.2 L87.0 217.9 L86.7 217.5 L86.4 217.0 L86.3 216.7 L86.2 216.0 L86.2 215.3 L86.2 214.7 L86.3 214.1 L86.4 213.7 L86.7 213.1 L86.9 212.7 L87.1 212.3 L87.4 212.0 L87.9 211.7 L88.3 211.5 L89.0 211.4 L89.7 211.4 L90.3 211.5 L91.0 211.6 L91.6 211.7 L92.0 211.7 L92.7 211.8 L93.3 211.9 L93.7 212.0 L94.3 212.3 L94.7 212.4 L95.1 212.7 L95.6 213.0 L96.0 213.3 L96.3 213.5 L96.7 213.8 L97.0 214.0 L97.7 214.3 L98.0 214.3 L98.3 214.2 L98.7 214.0 L99.0 213.5 L99.3 213.0 L99.4 212.7 L99.7 212.2 L100.0 211.8 L100.3 211.5 L100.7 211.3Z"/>
<path d="M88.5 212.7 L89.0 212.5 L89.7 212.4 L90.3 212.5 L91.0 212.5 L91.7 212.6 L92.3 212.7 L92.7 212.7 L93.3 212.9 L93.7 213.0 L94.3 213.3 L94.7 213.5 L95.0 213.7 L95.3 214.0 L95.7 214.3 L96.0 214.7 L96.3 215.3 L96.5 215.7 L96.7 216.0 L97.0 216.4 L97.7 216.6 L98.3 216.3 L98.7 216.0 L99.0 215.7 L99.3 215.4 L99.7 215.0 L99.9 214.7 L100.1 214.3 L100.3 214.0 L100.7 213.5 L101.0 213.2 L101.7 213.0 L102.3 213.2 L102.7 213.4 L103.0 213.7 L103.5 214.0 L103.8 214.3 L104.2 214.7 L104.6 215.0 L104.9 215.3 L105.3 215.7 L105.6 216.0 L106.0 216.3 L106.3 216.6 L106.7 216.8 L107.0 217.2 L107.2 217.7 L107.3 218.3 L107.3 218.7 L107.3 219.0 L107.1 219.7 L107.0 220.0 L106.7 220.5 L106.3 220.8 L106.0 221.0 L105.3 221.3 L104.7 221.3 L104.0 221.3 L103.3 221.1 L102.9 221.0 L102.3 220.9 L101.7 220.7 L101.3 220.7 L100.7 220.5 L100.1 220.3 L99.7 220.1 L99.3 220.0 L98.8 219.7 L98.3 219.4 L98.0 219.3 L97.3 219.1 L96.9 219.0 L96.3 219.0 L95.7 218.9 L95.0 218.8 L94.5 218.7 L94.0 218.6 L93.3 218.6 L92.9 218.7 L92.3 218.8 L91.7 218.9 L91.0 219.0 L90.3 218.8 L89.9 218.7 L89.3 218.4 L89.0 218.3 L88.6 218.0 L88.1 217.7 L87.7 217.3 L87.5 217.0 L87.3 216.7 L87.1 216.0 L87.1 215.3 L87.2 214.7 L87.3 214.3 L87.6 213.7 L87.8 213.3 L88.0 213.0 L88.5 212.7Z"/>
<path d="M89.8 213.3 L90.3 213.2 L91.0 213.2 L91.7 213.3 L92.1 213.3 L92.7 213.5 L93.1 213.7 L93.7 214.0 L94.0 214.2 L94.3 214.5 L94.7 214.8 L95.0 215.3 L95.1 215.7 L95.2 216.3 L95.0 216.9 L94.7 217.2 L94.2 217.3 L93.7 217.5 L93.0 217.7 L92.7 217.8 L92.0 218.0 L91.7 218.1 L91.0 218.1 L90.3 218.0 L90.0 217.9 L89.4 217.7 L89.0 217.4 L88.7 217.2 L88.3 216.8 L88.1 216.3 L88.0 216.0 L88.0 215.3 L88.1 215.0 L88.3 214.4 L88.6 214.0 L89.0 213.7 L89.3 213.5 L89.8 213.3Z"/>
<path d="M101.6 215.0 L102.0 214.8 L102.7 214.8 L103.2 215.0 L103.7 215.3 L104.0 215.6 L104.3 215.9 L104.7 216.2 L105.0 216.5 L105.3 216.8 L105.7 217.1 L106.0 217.5 L106.3 218.0 L106.5 218.3 L106.5 219.0 L106.4 219.7 L106.1 220.0 L105.8 220.3 L105.3 220.6 L104.9 220.7 L104.3 220.7 L104.0 220.6 L103.3 220.5 L102.7 220.4 L102.3 220.3 L101.7 220.1 L101.3 220.0 L100.7 219.7 L100.3 219.5 L100.0 219.1 L99.7 218.7 L99.5 218.3 L99.5 217.7 L99.7 217.2 L100.0 216.7 L100.3 216.3 L100.6 216.0 L100.9 215.7 L101.2 215.3 L101.6 215.0Z"/>
</g>
<g fill="none" stroke="#2f86d6" stroke-width="0.68" opacity="0.95">
<path d="M117.5 224.0 L118.0 223.8 L118.7 223.7 L119.3 223.7 L120.0 223.8 L120.5 224.0 L121.0 224.2 L121.4 224.3 L122.0 224.6 L122.3 224.7 L123.0 224.9 L123.3 225.0 L123.8 225.3 L124.2 225.7 L124.5 226.0 L124.8 226.3 L125.0 226.7 L125.3 227.0 L125.7 227.5 L126.0 228.0 L126.2 228.3 L126.4 228.7 L126.7 229.2 L126.9 229.7 L127.1 230.0 L127.3 230.5 L127.6 231.0 L127.7 231.3 L128.0 232.0 L128.0 232.3 L128.1 233.0 L128.0 233.5 L127.9 234.0 L127.7 234.4 L127.4 235.0 L127.2 235.3 L127.0 235.8 L126.8 236.3 L126.7 236.8 L126.5 237.3 L126.3 238.0 L126.2 238.3 L126.1 239.0 L126.0 239.3 L125.8 240.0 L125.7 240.4 L125.4 241.0 L125.2 241.3 L125.0 241.7 L124.7 242.0 L124.2 242.3 L123.7 242.7 L123.3 242.9 L123.0 243.1 L122.7 243.3 L122.2 243.7 L121.9 244.0 L121.6 244.3 L121.2 244.7 L120.8 245.0 L120.4 245.3 L120.0 245.5 L119.7 245.7 L119.0 245.9 L118.3 245.9 L117.7 246.0 L117.0 246.0 L116.7 246.0 L116.0 246.1 L115.6 246.3 L115.0 246.6 L114.7 246.8 L114.3 247.0 L113.7 247.3 L113.3 247.5 L112.8 247.7 L112.3 247.8 L111.8 248.0 L111.3 248.1 L110.7 248.2 L110.0 248.2 L109.3 248.1 L109.0 247.9 L108.5 247.7 L108.1 247.3 L107.7 247.0 L107.5 246.7 L107.1 246.3 L106.7 246.0 L106.3 245.8 L105.8 245.7 L105.3 245.5 L104.7 245.3 L104.3 245.2 L104.0 245.0 L103.6 244.7 L103.3 244.3 L103.0 244.0 L102.7 243.5 L102.4 243.0 L102.2 242.7 L102.0 242.3 L101.7 241.8 L101.3 241.4 L101.0 241.0 L100.7 240.7 L100.3 240.4 L100.0 240.0 L99.8 239.7 L99.6 239.3 L99.3 238.8 L99.2 238.3 L99.0 237.7 L99.0 237.3 L99.0 236.9 L99.1 236.3 L99.2 235.7 L99.3 235.1 L99.4 234.7 L99.6 234.0 L99.8 233.7 L100.0 233.0 L100.2 232.7 L100.3 232.3 L100.7 231.8 L101.0 231.4 L101.3 231.1 L101.7 230.8 L102.0 230.5 L102.3 230.2 L102.7 230.0 L103.0 229.7 L103.4 229.3 L103.8 229.0 L104.2 228.7 L104.5 228.3 L104.8 228.0 L105.1 227.7 L105.4 227.3 L105.7 227.0 L106.1 226.7 L106.5 226.3 L107.0 226.1 L107.3 226.0 L108.0 225.9 L108.7 225.8 L109.3 225.7 L109.7 225.6 L110.3 225.4 L110.7 225.3 L111.3 225.2 L112.0 225.1 L112.7 225.1 L113.3 225.2 L114.0 225.2 L114.7 225.2 L115.3 225.0 L115.7 224.8 L116.1 224.7 L116.7 224.4 L117.0 224.2 L117.5 224.0Z"/>
<path d="M117.6 226.0 L118.0 225.9 L118.7 225.8 L119.3 225.9 L119.7 226.1 L120.0 226.3 L120.4 226.7 L120.9 227.0 L121.3 227.3 L121.7 227.4 L122.1 227.7 L122.6 228.0 L123.0 228.3 L123.3 228.5 L123.7 228.9 L124.0 229.2 L124.3 229.6 L124.6 230.0 L124.9 230.3 L125.1 230.7 L125.3 231.1 L125.6 231.7 L125.7 232.0 L125.8 232.7 L125.7 233.3 L125.6 233.7 L125.4 234.3 L125.3 234.7 L125.2 235.3 L125.1 236.0 L125.0 236.3 L124.8 237.0 L124.6 237.3 L124.3 237.9 L124.0 238.3 L123.8 238.7 L123.6 239.0 L123.3 239.3 L123.0 239.7 L122.7 240.2 L122.3 240.6 L122.0 241.0 L121.7 241.3 L121.4 241.7 L121.1 242.0 L120.7 242.3 L120.3 242.6 L120.0 242.9 L119.7 243.1 L119.1 243.3 L118.7 243.5 L118.0 243.6 L117.7 243.7 L117.0 243.8 L116.3 243.9 L115.7 243.9 L115.0 244.0 L114.3 244.0 L113.7 244.0 L113.0 244.0 L112.7 244.0 L112.0 244.3 L111.7 244.5 L111.3 244.7 L110.7 244.9 L110.0 244.9 L109.4 244.7 L109.0 244.5 L108.7 244.3 L108.1 244.0 L107.7 243.9 L107.0 243.7 L106.7 243.6 L106.0 243.5 L105.4 243.3 L105.0 243.2 L104.6 243.0 L104.2 242.7 L103.8 242.3 L103.6 242.0 L103.3 241.6 L103.0 241.0 L102.8 240.7 L102.6 240.3 L102.3 239.9 L102.0 239.4 L101.8 239.0 L101.6 238.7 L101.4 238.0 L101.3 237.7 L101.3 237.0 L101.3 236.7 L101.4 236.0 L101.4 235.3 L101.4 234.7 L101.6 234.0 L101.7 233.7 L102.0 233.0 L102.2 232.7 L102.4 232.3 L102.7 232.0 L103.0 231.6 L103.3 231.3 L103.7 231.0 L104.1 230.7 L104.5 230.3 L104.9 230.0 L105.3 229.7 L105.7 229.4 L106.0 229.1 L106.3 228.9 L106.7 228.6 L107.2 228.3 L107.7 228.2 L108.3 228.1 L108.8 228.0 L109.3 227.9 L110.0 227.7 L110.3 227.5 L110.8 227.3 L111.3 227.1 L111.7 227.0 L112.3 226.8 L113.0 226.8 L113.7 226.7 L114.3 226.7 L114.9 226.7 L115.3 226.6 L116.0 226.5 L116.6 226.3 L117.0 226.2 L117.6 226.0Z"/>
<path d="M116.5 227.7 L117.0 227.6 L117.7 227.7 L118.0 227.7 L118.7 227.9 L119.0 228.0 L119.7 228.2 L120.0 228.3 L120.7 228.6 L121.0 228.7 L121.7 229.0 L122.0 229.2 L122.3 229.4 L122.7 229.8 L123.0 230.1 L123.3 230.6 L123.6 231.0 L123.8 231.3 L124.0 231.9 L124.1 232.3 L124.2 233.0 L124.1 233.7 L124.0 234.3 L124.0 234.7 L123.9 235.3 L123.7 235.9 L123.5 236.3 L123.3 236.7 L123.0 237.0 L122.7 237.4 L122.3 237.7 L122.0 238.1 L121.7 238.5 L121.3 238.9 L121.1 239.3 L120.9 239.7 L120.7 240.1 L120.3 240.6 L120.1 241.0 L119.7 241.3 L119.3 241.6 L119.0 241.8 L118.7 242.0 L118.0 242.3 L117.7 242.5 L117.2 242.7 L116.7 242.8 L116.0 243.0 L115.3 243.0 L114.7 242.9 L114.0 242.9 L113.3 242.7 L112.7 242.7 L112.0 242.7 L111.3 242.8 L110.7 242.9 L110.0 242.9 L109.3 242.7 L109.0 242.6 L108.3 242.4 L108.0 242.3 L107.3 242.2 L106.7 242.0 L106.3 241.9 L105.7 241.7 L105.3 241.5 L105.0 241.3 L104.7 241.0 L104.3 240.5 L104.0 240.0 L103.9 239.7 L103.7 239.0 L103.6 238.7 L103.5 238.0 L103.5 237.3 L103.5 236.7 L103.5 236.0 L103.6 235.3 L103.6 234.7 L103.6 234.0 L103.7 233.6 L103.8 233.0 L104.0 232.6 L104.3 232.1 L104.7 231.7 L105.0 231.4 L105.3 231.2 L105.7 231.0 L106.3 230.7 L106.7 230.6 L107.2 230.3 L107.7 230.1 L108.0 230.0 L108.7 229.7 L109.0 229.6 L109.7 229.4 L110.0 229.3 L110.7 229.0 L111.0 228.9 L111.4 228.7 L112.0 228.4 L112.3 228.2 L112.9 228.0 L113.3 227.9 L114.0 227.8 L114.7 227.7 L115.3 227.7 L116.0 227.7 L116.5 227.7Z"/>
<path d="M114.1 229.0 L114.7 228.9 L115.3 228.9 L116.0 228.9 L116.4 229.0 L117.0 229.1 L117.7 229.2 L118.1 229.3 L118.7 229.4 L119.3 229.5 L120.0 229.6 L120.3 229.7 L121.0 229.9 L121.3 230.1 L121.7 230.3 L122.0 230.7 L122.3 231.1 L122.6 231.7 L122.8 232.0 L122.9 232.7 L123.0 233.3 L122.9 234.0 L122.8 234.7 L122.7 235.1 L122.4 235.7 L122.1 236.0 L121.8 236.3 L121.4 236.7 L121.1 237.0 L120.8 237.3 L120.5 237.7 L120.2 238.0 L120.0 238.3 L119.7 238.8 L119.4 239.3 L119.2 239.7 L119.0 240.1 L118.7 240.5 L118.3 240.8 L118.0 241.1 L117.7 241.3 L117.1 241.7 L116.7 241.9 L116.3 242.0 L115.7 242.2 L115.0 242.1 L114.3 242.0 L114.0 242.0 L113.3 241.8 L112.7 241.7 L112.0 241.7 L111.5 241.7 L111.0 241.6 L110.3 241.5 L109.7 241.3 L109.3 241.2 L109.0 241.0 L108.3 240.7 L108.0 240.5 L107.5 240.3 L107.0 240.2 L106.3 240.0 L106.0 239.9 L105.7 239.6 L105.3 239.2 L105.1 238.7 L105.0 238.2 L105.0 237.7 L105.0 237.0 L105.1 236.7 L105.2 236.0 L105.3 235.4 L105.4 235.0 L105.4 234.3 L105.4 233.7 L105.6 233.0 L105.8 232.7 L106.1 232.3 L106.7 232.0 L107.0 231.9 L107.6 231.7 L108.0 231.5 L108.3 231.3 L109.0 231.0 L109.3 230.8 L109.9 230.7 L110.3 230.5 L111.0 230.4 L111.3 230.3 L112.0 230.1 L112.3 229.9 L112.8 229.7 L113.3 229.3 L113.7 229.2 L114.1 229.0Z"/>
<path d="M115.1 230.0 L115.6 230.0 L116.0 230.0 L116.7 230.2 L117.1 230.3 L117.7 230.5 L118.1 230.7 L118.7 230.8 L119.3 230.8 L120.0 230.8 L120.6 231.0 L121.0 231.2 L121.3 231.6 L121.6 232.0 L121.7 232.3 L121.8 233.0 L121.7 233.7 L121.7 234.1 L121.4 234.7 L121.2 235.0 L120.9 235.3 L120.6 235.7 L120.3 236.0 L120.0 236.4 L119.7 236.9 L119.3 237.3 L119.1 237.7 L118.9 238.0 L118.7 238.4 L118.3 238.9 L118.1 239.3 L117.9 239.7 L117.6 240.0 L117.3 240.3 L116.9 240.7 L116.4 241.0 L116.0 241.2 L115.3 241.3 L114.7 241.2 L114.0 241.1 L113.7 241.0 L113.0 240.8 L112.3 240.8 L111.7 240.7 L111.2 240.7 L110.7 240.6 L110.1 240.3 L109.7 240.1 L109.3 239.9 L109.0 239.6 L108.6 239.3 L108.2 239.0 L107.7 238.7 L107.3 238.4 L107.0 238.1 L106.7 237.7 L106.5 237.3 L106.5 236.7 L106.5 236.0 L106.5 235.3 L106.6 234.7 L106.7 234.1 L106.8 233.7 L107.0 233.3 L107.4 233.0 L107.9 232.7 L108.3 232.4 L108.7 232.3 L109.3 232.0 L109.7 231.8 L110.3 231.7 L110.7 231.6 L111.3 231.6 L112.0 231.4 L112.4 231.3 L113.0 231.0 L113.3 230.8 L113.7 230.5 L114.0 230.3 L114.7 230.1 L115.1 230.0Z"/>
<path d="M114.8 231.0 L115.3 230.9 L116.0 230.9 L116.3 231.0 L117.0 231.3 L117.3 231.4 L117.7 231.7 L118.2 232.0 L118.7 232.3 L119.0 232.6 L119.3 232.8 L119.7 233.3 L119.7 233.7 L119.7 234.3 L119.6 234.7 L119.4 235.3 L119.3 235.7 L119.0 236.1 L118.7 236.7 L118.5 237.0 L118.2 237.3 L118.0 237.7 L117.7 238.1 L117.3 238.5 L117.0 238.9 L116.7 239.2 L116.3 239.4 L115.7 239.7 L115.0 239.6 L114.4 239.3 L114.0 239.2 L113.3 239.1 L112.7 239.3 L112.3 239.4 L111.7 239.5 L111.0 239.5 L110.5 239.3 L110.0 239.1 L109.7 238.8 L109.3 238.5 L109.0 238.2 L108.7 237.9 L108.3 237.5 L108.0 237.1 L107.8 236.7 L107.7 236.3 L107.6 235.7 L107.6 235.0 L107.7 234.7 L108.0 234.0 L108.3 233.7 L108.7 233.3 L109.0 233.1 L109.3 232.9 L110.0 232.7 L110.3 232.6 L111.0 232.5 L111.7 232.4 L112.2 232.3 L112.7 232.2 L113.1 232.0 L113.7 231.7 L114.0 231.4 L114.3 231.2 L114.8 231.0Z"/>
<path d="M115.3 231.7 L115.7 231.6 L116.0 231.7 L116.7 231.9 L117.0 232.1 L117.4 232.3 L117.7 232.7 L118.0 233.0 L118.3 233.4 L118.6 234.0 L118.6 234.7 L118.5 235.3 L118.3 235.7 L118.0 236.2 L117.7 236.6 L117.3 236.9 L117.0 237.2 L116.7 237.4 L116.0 237.6 L115.3 237.4 L115.0 237.3 L114.3 237.2 L113.7 237.3 L113.3 237.4 L112.7 237.6 L112.3 237.7 L111.7 237.9 L111.0 238.0 L110.3 237.8 L110.0 237.6 L109.7 237.3 L109.3 237.0 L109.0 236.6 L108.7 236.0 L108.6 235.7 L108.7 235.0 L108.8 234.7 L109.0 234.3 L109.3 233.9 L109.7 233.6 L110.3 233.3 L110.7 233.2 L111.3 233.1 L112.0 233.1 L112.6 233.0 L113.0 232.9 L113.5 232.7 L114.0 232.3 L114.3 232.1 L114.7 231.9 L115.3 231.7Z"/>
</g>
<g fill="#dc4a50" opacity="0.4">
<rect x="52.2" y="198.3" width="0.8" height="0.8"/>
<rect x="62.4" y="209.6" width="0.8" height="0.8"/>
<rect x="70.5" y="220.8" width="0.8" height="0.8"/>
<rect x="87.7" y="213.6" width="0.8" height="0.8"/>
<rect x="55.5" y="207.0" width="0.8" height="0.8"/>
<rect x="94.4" y="212.4" width="0.8" height="0.8"/>
<rect x="92.3" y="204.0" width="0.8" height="0.8"/>
<rect x="64.4" y="208.7" width="0.8" height="0.8"/>
<rect x="96.9" y="199.0" width="0.8" height="0.8"/>
<rect x="65.6" y="220.5" width="0.8" height="0.8"/>
<rect x="111.6" y="218.1" width="0.8" height="0.8"/>
<rect x="108.1" y="217.3" width="0.8" height="0.8"/>
<rect x="82.1" y="206.6" width="0.8" height="0.8"/>
<rect x="116.1" y="211.0" width="0.8" height="0.8"/>
<rect x="85.0" y="220.0" width="0.8" height="0.8"/>
<rect x="95.3" y="211.5" width="0.8" height="0.8"/>
<rect x="94.2" y="213.7" width="0.8" height="0.8"/>
<rect x="88.5" y="206.7" width="0.8" height="0.8"/>
<rect x="66.1" y="208.8" width="0.8" height="0.8"/>
<rect x="84.9" y="215.4" width="0.8" height="0.8"/>
<rect x="91.4" y="205.1" width="0.8" height="0.8"/>
<rect x="66.1" y="214.7" width="0.8" height="0.8"/>
<rect x="90.4" y="212.7" width="0.8" height="0.8"/>
<rect x="99.5" y="208.5" width="0.8" height="0.8"/>
<rect x="73.5" y="208.1" width="0.8" height="0.8"/>
<rect x="61.5" y="203.3" width="0.8" height="0.8"/>
<rect x="103.1" y="220.8" width="0.8" height="0.8"/>
<rect x="79.7" y="223.9" width="0.8" height="0.8"/>
<rect x="76.3" y="224.6" width="0.8" height="0.8"/>
<rect x="83.5" y="218.4" width="0.8" height="0.8"/>
<rect x="90.3" y="210.5" width="0.8" height="0.8"/>
<rect x="85.1" y="206.9" width="0.8" height="0.8"/>
<rect x="88.5" y="211.0" width="0.8" height="0.8"/>
<rect x="120.9" y="215.3" width="0.8" height="0.8"/>
<rect x="69.6" y="211.3" width="0.8" height="0.8"/>
<rect x="106.6" y="201.9" width="0.8" height="0.8"/>
<rect x="90.1" y="216.6" width="0.8" height="0.8"/>
<rect x="58.1" y="206.5" width="0.8" height="0.8"/>
<rect x="66.7" y="200.7" width="0.8" height="0.8"/>
<rect x="101.9" y="199.6" width="0.8" height="0.8"/>
<rect x="75.1" y="199.6" width="0.8" height="0.8"/>
<rect x="77.6" y="206.2" width="0.8" height="0.8"/>
<rect x="104.2" y="213.6" width="0.8" height="0.8"/>
<rect x="101.0" y="213.9" width="0.8" height="0.8"/>
<rect x="90.8" y="218.7" width="0.8" height="0.8"/>
<rect x="68.2" y="201.2" width="0.8" height="0.8"/>
<rect x="90.7" y="222.4" width="0.8" height="0.8"/>
<rect x="83.1" y="199.9" width="0.8" height="0.8"/>
<rect x="79.5" y="217.2" width="0.8" height="0.8"/>
<rect x="84.9" y="203.1" width="0.8" height="0.8"/>
<rect x="93.1" y="201.0" width="0.8" height="0.8"/>
<rect x="87.4" y="220.8" width="0.8" height="0.8"/>
<rect x="80.3" y="216.5" width="0.8" height="0.8"/>
<rect x="96.3" y="202.6" width="0.8" height="0.8"/>
<rect x="120.1" y="213.8" width="0.8" height="0.8"/>
<rect x="102.5" y="219.6" width="0.8" height="0.8"/>
<rect x="72.5" y="213.4" width="0.8" height="0.8"/>
<rect x="94.4" y="209.3" width="0.8" height="0.8"/>
<rect x="106.0" y="210.1" width="0.8" height="0.8"/>
<rect x="95.7" y="222.7" width="0.8" height="0.8"/>
<rect x="110.3" y="208.2" width="0.8" height="0.8"/>
<rect x="86.0" y="216.7" width="0.8" height="0.8"/>
<rect x="122.2" y="219.4" width="0.8" height="0.8"/>
<rect x="120.5" y="209.7" width="0.8" height="0.8"/>
<rect x="98.7" y="205.8" width="0.8" height="0.8"/>
<rect x="80.0" y="219.2" width="0.8" height="0.8"/>
<rect x="112.9" y="213.7" width="0.8" height="0.8"/>
<rect x="97.0" y="206.3" width="0.8" height="0.8"/>
<rect x="81.5" y="203.6" width="0.8" height="0.8"/>
<rect x="118.6" y="218.0" width="0.8" height="0.8"/>
<rect x="104.7" y="222.8" width="0.8" height="0.8"/>
<rect x="58.9" y="222.1" width="0.8" height="0.8"/>
<rect x="82.6" y="198.4" width="0.8" height="0.8"/>
<rect x="128.7" y="215.4" width="0.8" height="0.8"/>
<rect x="94.2" y="204.9" width="0.8" height="0.8"/>
<rect x="81.7" y="214.6" width="0.8" height="0.8"/>
<rect x="121.5" y="231.2" width="0.8" height="0.8"/>
<rect x="93.3" y="220.4" width="0.8" height="0.8"/>
<rect x="114.3" y="223.2" width="0.8" height="0.8"/>
<rect x="89.2" y="221.9" width="0.8" height="0.8"/>
<rect x="89.0" y="221.5" width="0.8" height="0.8"/>
<rect x="96.3" y="213.5" width="0.8" height="0.8"/>
<rect x="82.9" y="205.3" width="0.8" height="0.8"/>
<rect x="87.3" y="214.9" width="0.8" height="0.8"/>
<rect x="69.2" y="209.5" width="0.8" height="0.8"/>
<rect x="78.4" y="223.7" width="0.8" height="0.8"/>
<rect x="97.5" y="200.3" width="0.8" height="0.8"/>
<rect x="97.8" y="216.6" width="0.8" height="0.8"/>
<rect x="90.6" y="218.1" width="0.8" height="0.8"/>
<rect x="99.6" y="205.3" width="0.8" height="0.8"/>
<rect x="89.0" y="218.7" width="0.8" height="0.8"/>
<rect x="92.9" y="205.7" width="0.8" height="0.8"/>
<rect x="101.3" y="214.9" width="0.8" height="0.8"/>
<rect x="69.1" y="206.9" width="0.8" height="0.8"/>
<rect x="92.6" y="223.7" width="0.8" height="0.8"/>
<rect x="105.7" y="220.6" width="0.8" height="0.8"/>
<rect x="57.0" y="226.9" width="0.8" height="0.8"/>
<rect x="85.8" y="204.0" width="0.8" height="0.8"/>
<rect x="113.2" y="216.7" width="0.8" height="0.8"/>
<rect x="78.7" y="213.5" width="0.8" height="0.8"/>
<rect x="65.0" y="209.9" width="0.8" height="0.8"/>
<rect x="96.3" y="214.6" width="0.8" height="0.8"/>
<rect x="97.2" y="211.5" width="0.8" height="0.8"/>
<rect x="93.3" y="202.9" width="0.8" height="0.8"/>
<rect x="95.4" y="211.9" width="0.8" height="0.8"/>
<rect x="112.8" y="215.7" width="0.8" height="0.8"/>
<rect x="71.8" y="209.6" width="0.8" height="0.8"/>
<rect x="56.0" y="213.3" width="0.8" height="0.8"/>
<rect x="78.1" y="223.9" width="0.8" height="0.8"/>
<rect x="50.2" y="217.0" width="0.8" height="0.8"/>
<rect x="95.0" y="217.1" width="0.8" height="0.8"/>
<rect x="95.4" y="206.2" width="0.8" height="0.8"/>
<rect x="84.7" y="225.0" width="0.8" height="0.8"/>
<rect x="73.5" y="210.3" width="0.8" height="0.8"/>
<rect x="75.4" y="201.7" width="0.8" height="0.8"/>
<rect x="90.3" y="200.6" width="0.8" height="0.8"/>
<rect x="97.9" y="210.9" width="0.8" height="0.8"/>
<rect x="93.4" y="215.7" width="0.8" height="0.8"/>
<rect x="63.2" y="218.5" width="0.8" height="0.8"/>
<rect x="69.5" y="205.6" width="0.8" height="0.8"/>
<rect x="61.8" y="210.0" width="0.8" height="0.8"/>
<rect x="78.7" y="220.6" width="0.8" height="0.8"/>
<rect x="116.5" y="207.0" width="0.8" height="0.8"/>
<rect x="87.8" y="210.6" width="0.8" height="0.8"/>
<rect x="109.3" y="221.4" width="0.8" height="0.8"/>
<rect x="79.2" y="208.3" width="0.8" height="0.8"/>
<rect x="79.4" y="220.2" width="0.8" height="0.8"/>
<rect x="89.9" y="227.6" width="0.8" height="0.8"/>
<rect x="93.8" y="208.5" width="0.8" height="0.8"/>
<rect x="74.0" y="218.9" width="0.8" height="0.8"/>
<rect x="68.7" y="214.9" width="0.8" height="0.8"/>
<rect x="86.9" y="202.9" width="0.8" height="0.8"/>
<rect x="66.6" y="200.7" width="0.8" height="0.8"/>
<rect x="111.5" y="215.9" width="0.8" height="0.8"/>
<rect x="100.1" y="220.2" width="0.8" height="0.8"/>
<rect x="72.4" y="198.4" width="0.8" height="0.8"/>
<rect x="86.0" y="211.8" width="0.8" height="0.8"/>
<rect x="108.0" y="206.9" width="0.8" height="0.8"/>
<rect x="116.8" y="217.9" width="0.8" height="0.8"/>
<rect x="87.6" y="214.8" width="0.8" height="0.8"/>
<rect x="99.6" y="219.9" width="0.8" height="0.8"/>
<rect x="68.9" y="205.8" width="0.8" height="0.8"/>
<rect x="66.7" y="225.4" width="0.8" height="0.8"/>
<rect x="98.1" y="211.0" width="0.8" height="0.8"/>
<rect x="72.1" y="211.5" width="0.8" height="0.8"/>
<rect x="74.9" y="214.7" width="0.8" height="0.8"/>
<rect x="77.7" y="207.1" width="0.8" height="0.8"/>
<rect x="95.1" y="214.2" width="0.8" height="0.8"/>
<rect x="77.7" y="201.1" width="0.8" height="0.8"/>
<rect x="78.8" y="221.5" width="0.8" height="0.8"/>
<rect x="102.3" y="210.0" width="0.8" height="0.8"/>
<rect x="98.2" y="217.3" width="0.8" height="0.8"/>
<rect x="83.4" y="217.2" width="0.8" height="0.8"/>
<rect x="89.8" y="206.7" width="0.8" height="0.8"/>
<rect x="91.6" y="226.5" width="0.8" height="0.8"/>
<rect x="116.6" y="219.9" width="0.8" height="0.8"/>
<rect x="88.4" y="193.0" width="0.8" height="0.8"/>
<rect x="86.6" y="209.1" width="0.8" height="0.8"/>
<rect x="71.3" y="211.5" width="0.8" height="0.8"/>
<rect x="77.7" y="206.1" width="0.8" height="0.8"/>
<rect x="93.3" y="216.4" width="0.8" height="0.8"/>
<rect x="102.9" y="209.1" width="0.8" height="0.8"/>
<rect x="68.8" y="213.8" width="0.8" height="0.8"/>
<rect x="96.2" y="211.0" width="0.8" height="0.8"/>
<rect x="94.7" y="213.1" width="0.8" height="0.8"/>
<rect x="75.9" y="218.5" width="0.8" height="0.8"/>
<rect x="106.5" y="219.3" width="0.8" height="0.8"/>
<rect x="91.8" y="222.7" width="0.8" height="0.8"/>
<rect x="106.1" y="210.6" width="0.8" height="0.8"/>
<rect x="83.6" y="207.1" width="0.8" height="0.8"/>
<rect x="103.6" y="215.6" width="0.8" height="0.8"/>
<rect x="97.7" y="223.7" width="0.8" height="0.8"/>
<rect x="81.1" y="224.2" width="0.8" height="0.8"/>
<rect x="104.5" y="215.6" width="0.8" height="0.8"/>
<rect x="88.0" y="201.7" width="0.8" height="0.8"/>
<rect x="125.5" y="198.5" width="0.8" height="0.8"/>
<rect x="91.3" y="205.3" width="0.8" height="0.8"/>
<rect x="100.7" y="206.7" width="0.8" height="0.8"/>
<rect x="87.2" y="202.4" width="0.8" height="0.8"/>
<rect x="92.0" y="205.5" width="0.8" height="0.8"/>
<rect x="89.9" y="209.6" width="0.8" height="0.8"/>
<rect x="111.1" y="219.1" width="0.8" height="0.8"/>
<rect x="108.1" y="205.1" width="0.8" height="0.8"/>
<rect x="92.1" y="214.1" width="0.8" height="0.8"/>
<rect x="106.6" y="204.3" width="0.8" height="0.8"/>
<rect x="92.1" y="201.2" width="0.8" height="0.8"/>
<rect x="67.2" y="210.0" width="0.8" height="0.8"/>
<rect x="95.2" y="211.1" width="0.8" height="0.8"/>
<rect x="93.6" y="203.0" width="0.8" height="0.8"/>
<rect x="78.5" y="217.2" width="0.8" height="0.8"/>
<rect x="90.1" y="209.2" width="0.8" height="0.8"/>
<rect x="70.7" y="208.4" width="0.8" height="0.8"/>
<rect x="90.0" y="192.9" width="0.8" height="0.8"/>
<rect x="107.7" y="205.3" width="0.8" height="0.8"/>
<rect x="76.9" y="215.0" width="0.8" height="0.8"/>
<rect x="78.3" y="218.7" width="0.8" height="0.8"/>
<rect x="85.0" y="203.0" width="0.8" height="0.8"/>
<rect x="75.7" y="229.2" width="0.8" height="0.8"/>
<rect x="112.6" y="215.5" width="0.8" height="0.8"/>
<rect x="109.6" y="223.1" width="0.8" height="0.8"/>
<rect x="68.5" y="210.8" width="0.8" height="0.8"/>
<rect x="75.8" y="207.3" width="0.8" height="0.8"/>
<rect x="115.9" y="225.5" width="0.8" height="0.8"/>
<rect x="75.4" y="210.1" width="0.8" height="0.8"/>
<rect x="82.6" y="220.4" width="0.8" height="0.8"/>
<rect x="101.5" y="206.5" width="0.8" height="0.8"/>
<rect x="107.9" y="222.3" width="0.8" height="0.8"/>
<rect x="80.8" y="224.0" width="0.8" height="0.8"/>
<rect x="77.6" y="203.4" width="0.8" height="0.8"/>
<rect x="84.5" y="218.0" width="0.8" height="0.8"/>
<rect x="95.6" y="201.5" width="0.8" height="0.8"/>
<rect x="66.5" y="224.1" width="0.8" height="0.8"/>
<rect x="83.5" y="196.4" width="0.8" height="0.8"/>
</g>
<g fill="#2f86d6" opacity="0.4">
<rect x="116.7" y="234.7" width="0.8" height="0.8"/>
<rect x="122.5" y="241.1" width="0.8" height="0.8"/>
<rect x="119.1" y="237.9" width="0.8" height="0.8"/>
<rect x="112.5" y="241.7" width="0.8" height="0.8"/>
<rect x="108.9" y="235.5" width="0.8" height="0.8"/>
<rect x="125.2" y="242.7" width="0.8" height="0.8"/>
<rect x="108.2" y="238.6" width="0.8" height="0.8"/>
<rect x="108.3" y="234.0" width="0.8" height="0.8"/>
<rect x="110.1" y="226.1" width="0.8" height="0.8"/>
<rect x="114.4" y="233.4" width="0.8" height="0.8"/>
<rect x="109.2" y="230.9" width="0.8" height="0.8"/>
<rect x="109.5" y="235.2" width="0.8" height="0.8"/>
<rect x="117.7" y="242.7" width="0.8" height="0.8"/>
<rect x="118.2" y="239.3" width="0.8" height="0.8"/>
<rect x="115.3" y="239.8" width="0.8" height="0.8"/>
<rect x="103.4" y="235.8" width="0.8" height="0.8"/>
<rect x="125.9" y="239.6" width="0.8" height="0.8"/>
<rect x="102.7" y="246.1" width="0.8" height="0.8"/>
<rect x="116.9" y="230.7" width="0.8" height="0.8"/>
<rect x="125.0" y="237.6" width="0.8" height="0.8"/>
<rect x="119.8" y="229.1" width="0.8" height="0.8"/>
<rect x="104.2" y="235.2" width="0.8" height="0.8"/>
<rect x="117.6" y="241.4" width="0.8" height="0.8"/>
<rect x="100.8" y="241.8" width="0.8" height="0.8"/>
<rect x="103.8" y="227.5" width="0.8" height="0.8"/>
<rect x="124.6" y="232.5" width="0.8" height="0.8"/>
<rect x="106.5" y="237.7" width="0.8" height="0.8"/>
<rect x="122.2" y="235.9" width="0.8" height="0.8"/>
<rect x="105.0" y="234.0" width="0.8" height="0.8"/>
<rect x="105.6" y="240.7" width="0.8" height="0.8"/>
<rect x="107.0" y="238.0" width="0.8" height="0.8"/>
<rect x="112.3" y="236.0" width="0.8" height="0.8"/>
<rect x="112.7" y="242.0" width="0.8" height="0.8"/>
<rect x="110.3" y="235.6" width="0.8" height="0.8"/>
<rect x="120.6" y="238.8" width="0.8" height="0.8"/>
<rect x="118.8" y="240.4" width="0.8" height="0.8"/>
<rect x="115.8" y="250.1" width="0.8" height="0.8"/>
<rect x="121.1" y="230.6" width="0.8" height="0.8"/>
<rect x="104.3" y="246.5" width="0.8" height="0.8"/>
<rect x="118.1" y="228.5" width="0.8" height="0.8"/>
<rect x="106.5" y="239.0" width="0.8" height="0.8"/>
<rect x="110.7" y="232.1" width="0.8" height="0.8"/>
<rect x="128.5" y="234.6" width="0.8" height="0.8"/>
<rect x="120.3" y="245.7" width="0.8" height="0.8"/>
<rect x="107.6" y="229.3" width="0.8" height="0.8"/>
<rect x="108.3" y="239.9" width="0.8" height="0.8"/>
<rect x="104.9" y="232.6" width="0.8" height="0.8"/>
<rect x="116.1" y="239.0" width="0.8" height="0.8"/>
<rect x="113.0" y="249.6" width="0.8" height="0.8"/>
<rect x="115.0" y="241.8" width="0.8" height="0.8"/>
<rect x="118.0" y="243.1" width="0.8" height="0.8"/>
<rect x="115.0" y="238.3" width="0.8" height="0.8"/>
<rect x="103.7" y="233.4" width="0.8" height="0.8"/>
<rect x="101.8" y="233.9" width="0.8" height="0.8"/>
</g>
<text x="73.8" y="187.9" font-size="9.8" text-anchor="start" font-family="Liberation Sans, Arial, sans-serif" fill="#c0272d" textLength="23.8" lengthAdjust="spacingAndGlyphs" stroke="#c0272d" stroke-width="0.22">CLL-1</text>
<text x="97.8" y="184.6" font-size="6" text-anchor="start" font-family="Liberation Sans, Arial, sans-serif" fill="#c0272d" textLength="3" lengthAdjust="spacingAndGlyphs" stroke="#c0272d" stroke-width="0.2">+</text>
<text x="101" y="187.9" font-size="9.8" text-anchor="start" font-family="Liberation Sans, Arial, sans-serif" fill="#c0272d" textLength="22.2" lengthAdjust="spacingAndGlyphs" stroke="#c0272d" stroke-width="0.22">, 44%</text>
<text x="42.7" y="245.8" font-size="9.6" text-anchor="start" font-family="Liberation Sans, Arial, sans-serif" fill="#3790cf" textLength="22.6" lengthAdjust="spacingAndGlyphs" stroke="#3790cf" stroke-width="0.15">CLL-1</text>
<text x="65.5" y="242.0" font-size="5.5" text-anchor="start" font-family="Liberation Sans, Arial, sans-serif" fill="#3790cf" textLength="2.6" lengthAdjust="spacingAndGlyphs" stroke="#3790cf" stroke-width="0.15">−</text>
<text x="68.4" y="245.8" font-size="9.6" text-anchor="start" font-family="Liberation Sans, Arial, sans-serif" fill="#3790cf" textLength="21.6" lengthAdjust="spacingAndGlyphs" stroke="#3790cf" stroke-width="0.15">, 41%</text>
<rect x="9" y="188" width="10.5" height="27" fill="#fff"/>
<text x="18" y="201.8" font-size="10" text-anchor="middle" font-family="Liberation Sans, Arial, sans-serif" fill="#111" stroke="#111" stroke-width="0.35" textLength="23.4" lengthAdjust="spacingAndGlyphs" transform="rotate(-90 18 201.8)">CLL-1</text>
<rect x="64.3" y="264" width="38.6" height="13" fill="#fff"/>
<text x="71.2" y="274.8" font-size="10.4" text-anchor="start" font-family="Liberation Sans, Arial, sans-serif" fill="#111" textLength="24.6" lengthAdjust="spacingAndGlyphs" stroke="#111" stroke-width="0.35">CD34</text>
</g>
</svg>
</body></html>
